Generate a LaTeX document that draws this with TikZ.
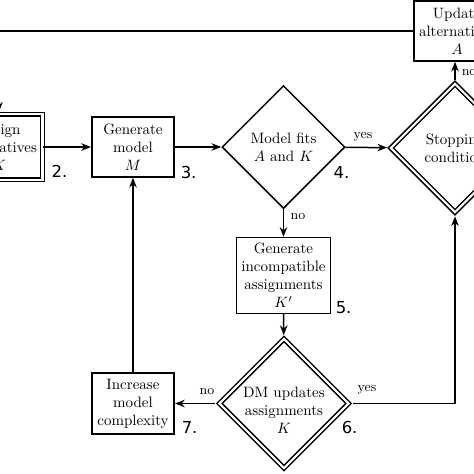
\documentclass[tikz,border=0pt]{standalone}
\usepackage{fontspec}
\newfontfamily\lblfont{DejaVu Sans}
\usetikzlibrary{shapes.geometric,arrows.meta}
\begin{document}
\begin{tikzpicture}[x=0.6667pt,y=-0.6667pt,
  line width=1pt,
  >={Stealth[length=6.5pt,width=5pt]},
  box/.style={draw, rectangle, align=center, inner sep=3.33pt},
  dbl/.style={double, double distance=1.4pt},
  dia/.style={draw, diamond, align=center, inner sep=0pt, aspect=1},
  lbl/.style={font=\lblfont\fontsize{11}{13}\selectfont, anchor=west, inner sep=0pt},
  cond/.style={font=\small, inner sep=0pt}]
\clip (0,0) rectangle (474,474);
% nodes
\node[box, dbl, minimum width=58pt, minimum height=43.5pt] (b2) at (-1,147) {Assign\\alternatives\\$K$};
\node[box, minimum width=55pt, minimum height=40pt] (b3) at (133,147) {Generate\\model\\$M$};
\node[dia, minimum width=82pt, minimum height=82pt] (d4) at (283.5,147) {Model fits\\$A$ and $K$};
\node[dia, dbl, minimum width=86pt, minimum height=86pt] (stop) at (455,148) {Stopping\\condition};
\node[box, minimum width=56pt, minimum height=40pt] (upd) at (457,31) {Update\\alternatives\\$A$};
\node[box, minimum width=61pt, minimum height=50.5pt] (b5) at (283.5,275.5) {Generate\\incompatible\\assignments\\$K'$};
\node[dia, dbl, minimum width=86.5pt, minimum height=86.5pt] (d6) at (284,403.5) {};
\node[align=center, inner sep=0pt] (d6t) at (284,410) {DM updates\\assignments\\$K$};
\node[box, minimum width=55pt, minimum height=40.5pt] (b7) at (133,403.5) {Increase\\model\\complexity};
% step numbers
\node[lbl] (n2) at (51,171) {2.};
\node[lbl] (n3) at (180,172) {3.};
\node[lbl] (n4) at (333,172) {4.};
\node[lbl] (n5) at (335,308) {5.};
\node[lbl] (n6) at (341,427) {6.};
\node[lbl] (n7) at (181,427) {7.};
% connectors
\draw[->] (upd.west) -| ([shift={(0,-2)}]b2.north);
\draw[->] (b2) -- (b3);
\draw[->] (b3) -- (d4);
\draw[->, shorten >=2pt] (d4) -- (stop);
\draw[->] (d4) -- (b5);
\draw[->, shorten >=2pt] (b5) -- (d6);
\draw[->, shorten <=2pt] (d6) -- (b7);
\draw[->] (b7) -- (b3);
\draw[->, shorten >=2pt, shorten <=2pt] (d6.east) -| (stop.south);
\draw[->, shorten <=2pt] (stop.north) -- (stop.north |- upd.south);
% branch labels
\node[cond] (y4) at (363,137) {yes};
\node[cond] (no4) at (298,217) {no};
\node[cond, anchor=west] (noU) at (461,73) {no};
\node[cond] (no6) at (207,392) {no};
\node[cond] (y6) at (367,390) {yes};
\end{tikzpicture}
\end{document}
